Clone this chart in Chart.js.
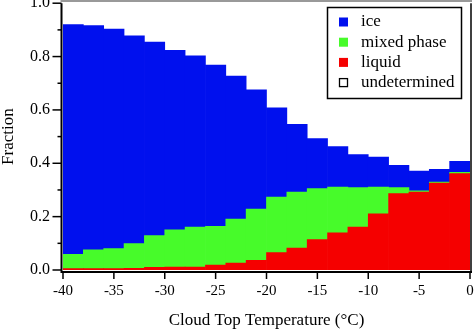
<!DOCTYPE html>
<html>
<head>
<meta charset="utf-8">
<script src="https://cdn.jsdelivr.net/npm/chart.js@4"></script>
<style>
  html, body { margin: 0; padding: 0; background: #fff; }
  #box { width: 474px; height: 331px; }
</style>
</head>
<body>
<div id="box"><canvas id="grafico"></canvas></div>
<script>
// bins de 2 °C, centro de cada bin
const binCenters = [-39, -37, -35, -33, -31, -29, -27, -25, -23, -21,
                    -19, -17, -15, -13, -11, -9, -7, -5, -3, -1];
const liquid = [0.005, 0.005, 0.005, 0.006, 0.010, 0.011, 0.011, 0.018, 0.026, 0.036,
                0.065, 0.082, 0.114, 0.139, 0.161, 0.211, 0.286, 0.292, 0.326, 0.361];
const mixed = [0.054, 0.071, 0.075, 0.093, 0.119, 0.140, 0.150, 0.146, 0.165, 0.192,
               0.208, 0.210, 0.191, 0.172, 0.148, 0.100, 0.023, 0.005, 0.004, 0.005];
const ice = [0.861, 0.840, 0.823, 0.779, 0.725, 0.672, 0.642, 0.604, 0.536, 0.447,
             0.335, 0.254, 0.188, 0.152, 0.124, 0.112, 0.083, 0.074, 0.047, 0.041];
const undetermined = [0.080, 0.084, 0.097, 0.122, 0.146, 0.177, 0.197, 0.232, 0.273, 0.325,
                      0.392, 0.454, 0.507, 0.537, 0.567, 0.577, 0.608, 0.629, 0.623, 0.593];
const xTicks = [-40, -35, -30, -25, -20, -15, -10, -5, 0];
const yTicks = [0, 0.2, 0.4, 0.6, 0.8, 1.0];

const serif = "'Liberation Serif', 'DejaVu Serif', serif";

function pts(arr) {
  return binCenters.map((c, i) => ({ x: c, y: arr[i] }));
}

// eixos, marcas e moldura
const frame = {
  id: "frame",
  afterDatasetsDraw(chart) {
    const { ctx, chartArea: a, scales } = chart;
    const sx = scales.x, sy = scales.y;
    const ax = a.left - 1.5;
    ctx.save();
    ctx.strokeStyle = "#000";
    ctx.lineWidth = 2;
    ctx.beginPath();
    ctx.moveTo(ax, a.top);
    ctx.lineTo(ax, a.bottom + 2);
    ctx.lineTo(a.right + 2, a.bottom + 2);
    ctx.stroke();
    // marcas y (maiores e menores)
    ctx.lineWidth = 1.5;
    for (let k = 0; k <= 10; k++) {
      const y = sy.getPixelForValue(k / 10);
      const len = k % 2 === 0 ? 9 : 4;
      ctx.beginPath();
      ctx.moveTo(ax, y);
      ctx.lineTo(ax - len, y);
      ctx.stroke();
    }
    // marcas x
    xTicks.forEach(v => {
      const x = sx.getPixelForValue(v);
      ctx.beginPath();
      ctx.moveTo(x, a.bottom + 2);
      ctx.lineTo(x, a.bottom + 9);
      ctx.stroke();
    });
    // borda direita e topo
    ctx.beginPath();
    ctx.moveTo(a.right + 1, a.top);
    ctx.lineTo(a.right + 1, a.bottom + 2);
    ctx.stroke();
    ctx.strokeStyle = "#999";
    ctx.lineWidth = 2;
    ctx.beginPath();
    ctx.moveTo(ax - 1, 1);
    ctx.lineTo(a.right + 2, 1);
    ctx.stroke();
    ctx.restore();
  },
  afterDraw(chart) {
    // legenda
    const { ctx } = chart;
    const order = [2, 1, 0, 3];
    ctx.save();
    ctx.fillStyle = "#fff";
    ctx.fillRect(327, 7, 135, 92);
    ctx.strokeStyle = "#000";
    ctx.lineWidth = 1.5;
    ctx.strokeRect(327.5, 7.5, 134, 91);
    ctx.font = "17px " + serif;
    ctx.textBaseline = "middle";
    order.forEach((di, i) => {
      const ds = chart.data.datasets[di];
      const cy = 22 + i * 20.2;
      ctx.fillStyle = ds.backgroundColor;
      ctx.fillRect(339, cy - 4.5, 9, 9);
      if (ds.label === "undetermined") {
        ctx.lineWidth = 1.3;
        ctx.strokeRect(339.5, cy - 4, 8, 8);
      }
      ctx.fillStyle = "#000";
      ctx.fillText(ds.label, 361, cy);
    });
    ctx.restore();
  }
};

const data = {
  datasets: [
    { label: "liquid", data: pts(liquid), backgroundColor: "#f50000" },
    { label: "mixed phase", data: pts(mixed), backgroundColor: "#47fb2a" },
    { label: "ice", data: pts(ice), backgroundColor: "#0010ee" },
    { label: "undetermined", data: pts(undetermined), backgroundColor: "#ffffff" }
  ]
};

const config = {
  type: "bar",
  data: data,
  options: {
    responsive: true,
    maintainAspectRatio: false,
    animation: false,
    layout: { padding: { top: 3, right: 4, left: 0, bottom: 0 } },
    datasets: {
      bar: { barPercentage: 1, categoryPercentage: 1, borderWidth: 0 }
    },
    plugins: {
      legend: { display: false },
      tooltip: { enabled: false }
    },
    scales: {
      x: {
        type: "linear",
        stacked: true,
        offset: false,
        min: -40,
        max: 0,
        afterFit: s => { s.height = 61; },
        afterBuildTicks: s => { s.ticks = xTicks.map(v => ({ value: v })); },
        grid: { display: false, drawTicks: true, tickLength: 12 },
        border: { display: false },
        ticks: {
          color: "#000",
          font: { family: serif, size: 15 },
          padding: 0,
          maxRotation: 0,
          callback: v => String(v)
        },
        title: {
          display: true,
          text: "Cloud Top Temperature (°C)",
          color: "#000",
          font: { family: serif, size: 17, lineHeight: 1 },
          padding: { top: 0, bottom: 1.5 }
        }
      },
      y: {
        stacked: true,
        min: 0,
        max: 1,
        afterFit: s => { s.width = 63; },
        afterBuildTicks: s => { s.ticks = yTicks.map(v => ({ value: v })); },
        grid: { display: false, drawTicks: true, tickLength: 13 },
        border: { display: false },
        ticks: {
          color: "#000",
          font: { family: serif, size: 16, lineHeight: 0.4 },
          padding: 0,
          callback: v => v.toFixed(1)
        },
        title: {
          display: true,
          text: "Fraction",
          color: "#000",
          font: { family: serif, size: 17, lineHeight: 1 },
          padding: { top: 0, bottom: 0 }
        }
      }
    }
  },
  plugins: [frame]
};

new Chart(document.getElementById("grafico").getContext("2d"), config);
</script>
</body>
</html>
